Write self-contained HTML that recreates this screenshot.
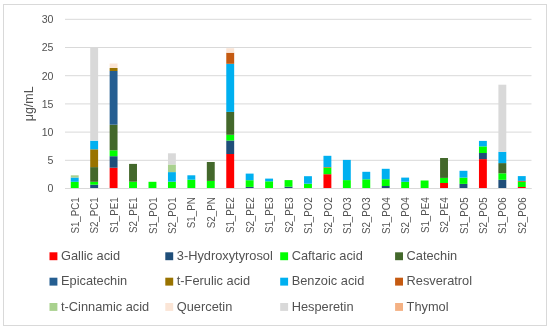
<!DOCTYPE html><html><head><meta charset="utf-8"><style>html,body{margin:0;padding:0;background:#fff;width:550px;height:330px;overflow:hidden}svg{display:block}text{font-family:"Liberation Sans",sans-serif;fill:#525252}</style></head><body>
<svg width="550" height="330" viewBox="0 0 550 330">
<rect x="0" y="0" width="550" height="330" fill="#fff"/>
<rect x="3.5" y="4.5" width="543" height="321" fill="none" stroke="#D9D9D9" stroke-width="1"/>
<rect x="65.0" y="188.00" width="466.5" height="1" fill="#D9D9D9"/>
<text x="53.5" y="192.40" font-size="10.6" text-anchor="end">0</text>
<rect x="65.0" y="159.80" width="466.5" height="1" fill="#D9D9D9"/>
<text x="53.5" y="164.20" font-size="10.6" text-anchor="end">5</text>
<rect x="65.0" y="131.60" width="466.5" height="1" fill="#D9D9D9"/>
<text x="53.5" y="136.00" font-size="10.6" text-anchor="end">10</text>
<rect x="65.0" y="103.40" width="466.5" height="1" fill="#D9D9D9"/>
<text x="53.5" y="107.80" font-size="10.6" text-anchor="end">15</text>
<rect x="65.0" y="75.20" width="466.5" height="1" fill="#D9D9D9"/>
<text x="53.5" y="79.60" font-size="10.6" text-anchor="end">20</text>
<rect x="65.0" y="47.00" width="466.5" height="1" fill="#D9D9D9"/>
<text x="53.5" y="51.40" font-size="10.6" text-anchor="end">25</text>
<rect x="65.0" y="18.80" width="466.5" height="1" fill="#D9D9D9"/>
<text x="53.5" y="23.20" font-size="10.6" text-anchor="end">30</text>
<rect x="70.77" y="181.80" width="7.9" height="6.20" fill="#00FF00"/>
<rect x="70.77" y="177.50" width="7.9" height="4.30" fill="#00B0F0"/>
<rect x="70.77" y="175.30" width="7.9" height="2.20" fill="#A9D18E"/>
<text transform="translate(78.82,197.3) rotate(-90) scale(0.92,1)" font-size="10.6" text-anchor="end">S1_PC1</text>
<rect x="90.21" y="184.70" width="7.9" height="3.30" fill="#1F4E79"/>
<rect x="90.21" y="181.80" width="7.9" height="2.90" fill="#00FF00"/>
<rect x="90.21" y="167.10" width="7.9" height="14.70" fill="#43682B"/>
<rect x="90.21" y="149.30" width="7.9" height="17.80" fill="#997300"/>
<rect x="90.21" y="140.60" width="7.9" height="8.70" fill="#00B0F0"/>
<rect x="90.21" y="140.10" width="7.9" height="0.50" fill="#FBE5D6"/>
<rect x="90.21" y="47.40" width="7.9" height="92.70" fill="#D9D9D9"/>
<text transform="translate(98.26,197.3) rotate(-90) scale(0.92,1)" font-size="10.6" text-anchor="end">S2_PC1</text>
<rect x="109.64" y="167.70" width="7.9" height="20.30" fill="#FF0000"/>
<rect x="109.64" y="156.20" width="7.9" height="11.50" fill="#1F4E79"/>
<rect x="109.64" y="150.30" width="7.9" height="5.90" fill="#00FF00"/>
<rect x="109.64" y="124.70" width="7.9" height="25.60" fill="#43682B"/>
<rect x="109.64" y="71.00" width="7.9" height="53.70" fill="#255E91"/>
<rect x="109.64" y="68.00" width="7.9" height="3.00" fill="#997300"/>
<rect x="109.64" y="63.50" width="7.9" height="4.50" fill="#FBE5D6"/>
<text transform="translate(117.69,197.3) rotate(-90) scale(0.92,1)" font-size="10.6" text-anchor="end">S1_PE1</text>
<rect x="129.08" y="181.70" width="7.9" height="6.30" fill="#00FF00"/>
<rect x="129.08" y="163.90" width="7.9" height="17.80" fill="#43682B"/>
<text transform="translate(137.13,197.3) rotate(-90) scale(0.92,1)" font-size="10.6" text-anchor="end">S2_PE1</text>
<rect x="148.52" y="181.80" width="7.9" height="6.20" fill="#00FF00"/>
<text transform="translate(156.57,197.3) rotate(-90) scale(0.92,1)" font-size="10.6" text-anchor="end">S1_PO1</text>
<rect x="167.96" y="181.70" width="7.9" height="6.30" fill="#00FF00"/>
<rect x="167.96" y="172.10" width="7.9" height="9.60" fill="#00B0F0"/>
<rect x="167.96" y="164.50" width="7.9" height="7.60" fill="#A9D18E"/>
<rect x="167.96" y="153.30" width="7.9" height="11.20" fill="#D9D9D9"/>
<text transform="translate(176.01,197.3) rotate(-90) scale(0.92,1)" font-size="10.6" text-anchor="end">S2_PO1</text>
<rect x="187.39" y="179.70" width="7.9" height="8.30" fill="#00FF00"/>
<rect x="187.39" y="175.30" width="7.9" height="4.40" fill="#00B0F0"/>
<text transform="translate(195.44,197.3) rotate(-90) scale(0.92,1)" font-size="10.6" text-anchor="end">S1_PN</text>
<rect x="206.83" y="180.90" width="7.9" height="7.10" fill="#00FF00"/>
<rect x="206.83" y="162.00" width="7.9" height="18.90" fill="#43682B"/>
<text transform="translate(214.88,197.3) rotate(-90) scale(0.92,1)" font-size="10.6" text-anchor="end">S2_PN</text>
<rect x="226.27" y="154.00" width="7.9" height="34.00" fill="#FF0000"/>
<rect x="226.27" y="140.50" width="7.9" height="13.50" fill="#1F4E79"/>
<rect x="226.27" y="134.80" width="7.9" height="5.70" fill="#00FF00"/>
<rect x="226.27" y="111.90" width="7.9" height="22.90" fill="#43682B"/>
<rect x="226.27" y="63.80" width="7.9" height="48.10" fill="#00B0F0"/>
<rect x="226.27" y="52.70" width="7.9" height="11.10" fill="#C55A11"/>
<rect x="226.27" y="48.20" width="7.9" height="4.50" fill="#FBE5D6"/>
<text transform="translate(234.32,197.3) rotate(-90) scale(0.92,1)" font-size="10.6" text-anchor="end">S1_PE2</text>
<rect x="245.71" y="186.90" width="7.9" height="1.10" fill="#1F4E79"/>
<rect x="245.71" y="180.20" width="7.9" height="6.70" fill="#00FF00"/>
<rect x="245.71" y="173.60" width="7.9" height="6.60" fill="#00B0F0"/>
<text transform="translate(253.76,197.3) rotate(-90) scale(0.92,1)" font-size="10.6" text-anchor="end">S2_PE2</text>
<rect x="265.14" y="181.30" width="7.9" height="6.70" fill="#00FF00"/>
<rect x="265.14" y="178.60" width="7.9" height="2.70" fill="#00B0F0"/>
<text transform="translate(273.19,197.3) rotate(-90) scale(0.92,1)" font-size="10.6" text-anchor="end">S1_PE3</text>
<rect x="284.58" y="186.70" width="7.9" height="1.30" fill="#1F4E79"/>
<rect x="284.58" y="180.10" width="7.9" height="6.60" fill="#00FF00"/>
<text transform="translate(292.63,197.3) rotate(-90) scale(0.92,1)" font-size="10.6" text-anchor="end">S2_PE3</text>
<rect x="304.02" y="183.70" width="7.9" height="4.30" fill="#00FF00"/>
<rect x="304.02" y="176.20" width="7.9" height="7.50" fill="#00B0F0"/>
<text transform="translate(312.07,197.3) rotate(-90) scale(0.92,1)" font-size="10.6" text-anchor="end">S1_PO2</text>
<rect x="323.46" y="174.20" width="7.9" height="13.80" fill="#FF0000"/>
<rect x="323.46" y="167.60" width="7.9" height="6.60" fill="#00FF00"/>
<rect x="323.46" y="167.00" width="7.9" height="0.60" fill="#C55A11"/>
<rect x="323.46" y="155.80" width="7.9" height="11.20" fill="#00B0F0"/>
<text transform="translate(331.51,197.3) rotate(-90) scale(0.92,1)" font-size="10.6" text-anchor="end">S2_PO2</text>
<rect x="342.89" y="180.10" width="7.9" height="7.90" fill="#00FF00"/>
<rect x="342.89" y="159.90" width="7.9" height="20.20" fill="#00B0F0"/>
<text transform="translate(350.94,197.3) rotate(-90) scale(0.92,1)" font-size="10.6" text-anchor="end">S1_PO3</text>
<rect x="362.33" y="179.30" width="7.9" height="8.70" fill="#00FF00"/>
<rect x="362.33" y="171.80" width="7.9" height="7.50" fill="#00B0F0"/>
<text transform="translate(370.38,197.3) rotate(-90) scale(0.92,1)" font-size="10.6" text-anchor="end">S2_PO3</text>
<rect x="381.77" y="186.00" width="7.9" height="2.00" fill="#1F4E79"/>
<rect x="381.77" y="179.20" width="7.9" height="6.80" fill="#00FF00"/>
<rect x="381.77" y="168.80" width="7.9" height="10.40" fill="#00B0F0"/>
<text transform="translate(389.82,197.3) rotate(-90) scale(0.92,1)" font-size="10.6" text-anchor="end">S1_PO4</text>
<rect x="401.21" y="181.80" width="7.9" height="6.20" fill="#00FF00"/>
<rect x="401.21" y="177.60" width="7.9" height="4.20" fill="#00B0F0"/>
<text transform="translate(409.26,197.3) rotate(-90) scale(0.92,1)" font-size="10.6" text-anchor="end">S2_PO4</text>
<rect x="420.64" y="180.50" width="7.9" height="7.50" fill="#00FF00"/>
<text transform="translate(428.69,197.3) rotate(-90) scale(0.92,1)" font-size="10.6" text-anchor="end">S1_PE4</text>
<rect x="440.08" y="183.00" width="7.9" height="5.00" fill="#FF0000"/>
<rect x="440.08" y="177.90" width="7.9" height="5.10" fill="#00FF00"/>
<rect x="440.08" y="158.00" width="7.9" height="19.90" fill="#43682B"/>
<text transform="translate(448.13,197.3) rotate(-90) scale(0.92,1)" font-size="10.6" text-anchor="end">S2_PE4</text>
<rect x="459.52" y="183.90" width="7.9" height="4.10" fill="#1F4E79"/>
<rect x="459.52" y="177.60" width="7.9" height="6.30" fill="#00FF00"/>
<rect x="459.52" y="170.80" width="7.9" height="6.80" fill="#00B0F0"/>
<text transform="translate(467.57,197.3) rotate(-90) scale(0.92,1)" font-size="10.6" text-anchor="end">S1_PO5</text>
<rect x="478.96" y="159.10" width="7.9" height="28.90" fill="#FF0000"/>
<rect x="478.96" y="153.00" width="7.9" height="6.10" fill="#1F4E79"/>
<rect x="478.96" y="146.40" width="7.9" height="6.60" fill="#00FF00"/>
<rect x="478.96" y="140.90" width="7.9" height="5.50" fill="#00B0F0"/>
<text transform="translate(487.01,197.3) rotate(-90) scale(0.92,1)" font-size="10.6" text-anchor="end">S2_PO5</text>
<rect x="498.39" y="179.80" width="7.9" height="8.20" fill="#1F4E79"/>
<rect x="498.39" y="173.30" width="7.9" height="6.50" fill="#00FF00"/>
<rect x="498.39" y="163.10" width="7.9" height="10.20" fill="#43682B"/>
<rect x="498.39" y="151.80" width="7.9" height="11.30" fill="#00B0F0"/>
<rect x="498.39" y="84.70" width="7.9" height="67.10" fill="#D9D9D9"/>
<text transform="translate(506.44,197.3) rotate(-90) scale(0.92,1)" font-size="10.6" text-anchor="end">S1_PO6</text>
<rect x="517.83" y="187.00" width="7.9" height="1.00" fill="#FF0000"/>
<rect x="517.83" y="181.80" width="7.9" height="5.20" fill="#00FF00"/>
<rect x="517.83" y="180.90" width="7.9" height="0.90" fill="#C55A11"/>
<rect x="517.83" y="176.10" width="7.9" height="4.80" fill="#00B0F0"/>
<text transform="translate(525.88,197.3) rotate(-90) scale(0.92,1)" font-size="10.6" text-anchor="end">S2_PO6</text>
<rect x="65.0" y="188" width="466.5" height="1" fill="#D9D9D9"/>
<text transform="translate(32.5,103.8) rotate(-90)" font-size="12.5" text-anchor="middle">μg/mL</text>
<rect x="49.5" y="252.3" width="7.9" height="7.9" fill="#FF0000"/>
<text x="61.0" y="259.8" font-size="12.8">Gallic acid</text>
<rect x="165.3" y="252.3" width="7.9" height="7.9" fill="#1F4E79"/>
<text x="176.8" y="259.8" font-size="12.8">3-Hydroxytyrosol</text>
<rect x="280.2" y="252.3" width="7.9" height="7.9" fill="#00FF00"/>
<text x="291.7" y="259.8" font-size="12.8">Caftaric acid</text>
<rect x="395.1" y="252.3" width="7.9" height="7.9" fill="#43682B"/>
<text x="406.6" y="259.8" font-size="12.8">Catechin</text>
<rect x="49.5" y="277.7" width="7.9" height="7.9" fill="#255E91"/>
<text x="61.0" y="285.2" font-size="12.8">Epicatechin</text>
<rect x="165.3" y="277.7" width="7.9" height="7.9" fill="#997300"/>
<text x="176.8" y="285.2" font-size="12.8">t-Ferulic acid</text>
<rect x="280.2" y="277.7" width="7.9" height="7.9" fill="#00B0F0"/>
<text x="291.7" y="285.2" font-size="12.8">Benzoic acid</text>
<rect x="395.1" y="277.7" width="7.9" height="7.9" fill="#C55A11"/>
<text x="406.6" y="285.2" font-size="12.8">Resveratrol</text>
<rect x="49.5" y="303.0" width="7.9" height="7.9" fill="#A9D18E"/>
<text x="61.0" y="310.5" font-size="12.8">t-Cinnamic acid</text>
<rect x="165.3" y="303.0" width="7.9" height="7.9" fill="#FBE5D6"/>
<text x="176.8" y="310.5" font-size="12.8">Quercetin</text>
<rect x="280.2" y="303.0" width="7.9" height="7.9" fill="#D9D9D9"/>
<text x="291.7" y="310.5" font-size="12.8">Hesperetin</text>
<rect x="395.1" y="303.0" width="7.9" height="7.9" fill="#F4B183"/>
<text x="406.6" y="310.5" font-size="12.8">Thymol</text>
</svg></body></html>
